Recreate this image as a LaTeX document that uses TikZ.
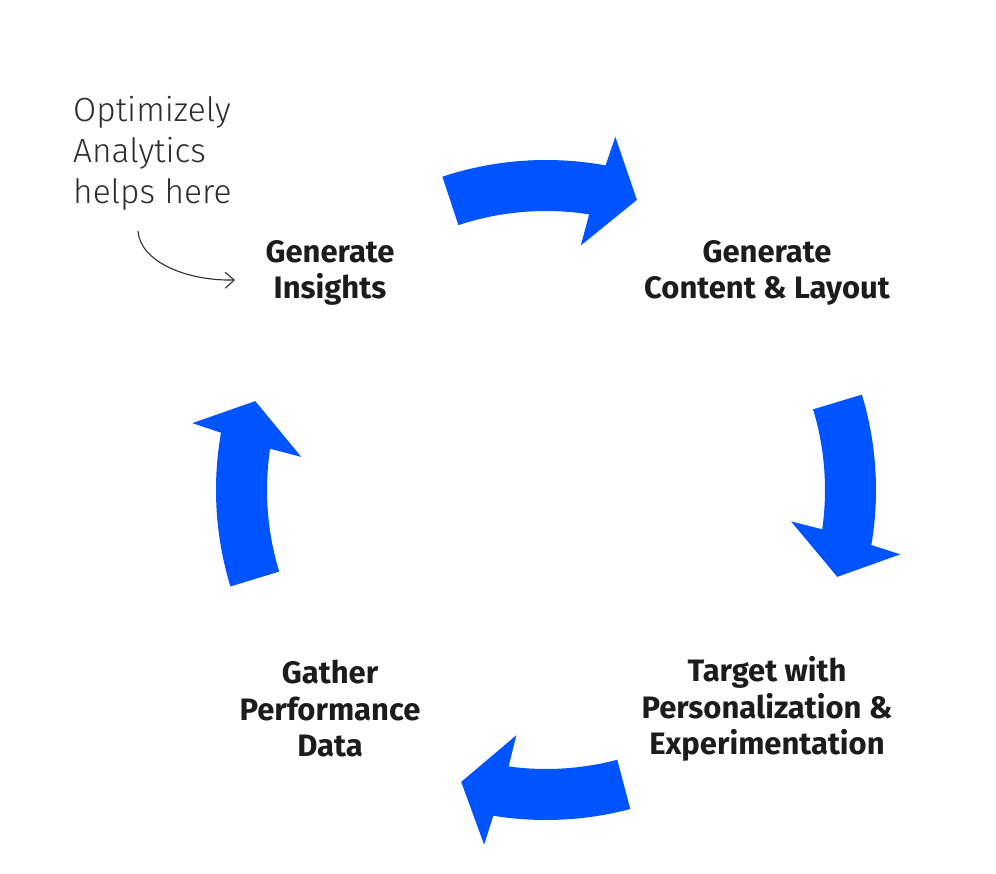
\documentclass[tikz,border=0pt]{standalone}
\usepackage{fontspec}
\setmainfont{Fira Sans}
\newfontfamily\labelfont{Fira Sans}[UprightFont=* Bold]
\newfontfamily\handfont{Fira Sans Light}
\usetikzlibrary{calc,arrows.meta}
\definecolor{arrowblue}{RGB}{0,84,255}
\definecolor{labelink}{RGB}{28,28,28}
\definecolor{handink}{RGB}{45,45,45}
\tikzset{
  steplabel/.style={align=center, text=labelink, inner sep=0pt,
    font=\labelfont\fontsize{31}{36.5}\selectfont},
  handnote/.style={align=left, text=handink, inner sep=0pt, anchor=north west,
    font=\handfont\fontsize{33.5}{41}\selectfont},
  handarrow/.style={draw=handink, line width=1.1pt, -{Straight Barb[length=9pt,width=16pt,line width=1.1pt]}}
}
% #1 tail angle, #2 tip angle (math angles around C, arrows run clockwise)
\newcommand\cyclearrow[2]{%
  \fill[arrowblue] ($(C)+({#1}:330)$) arc[start angle={#1}, end angle={#2+7}, radius=330]
    -- ($(C)+({#2+6.3}:360)$) -- ($(C)+({#2}:304)$) -- ($(C)+({#2+9.3}:247)$)
    -- ($(C)+({#2+8.5}:279)$) arc[start angle={#2+8.5}, end angle={#1}, radius=279] -- cycle;}
\begin{document}
\begin{tikzpicture}[x=1pt,y=1pt]
\useasboundingbox (0,0) rectangle (996,873);
\coordinate (C) at (546,383);
\cyclearrow{108.3}{72.6}
\cyclearrow{16.8}{-16.6}
\cyclearrow{-75.2}{-106.2}
\cyclearrow{197}{163}
\node[steplabel] (gi) at (330,600) {Generate\\Insights};
\node[steplabel] (gcl) at (767,600) {Generate\\Content \& Layout};
\node[steplabel] (tpe) at (767,164) {Target with\\Personalization \&\\Experimentation};
\node[steplabel] (gpd) at (330,164) {Gather\\Performance\\Data};
\node[handnote] (note) at (73,777) {Optimizely\\Analytics\\helps here};
\coordinate (hs) at (138,642);
\coordinate (he) at (235,593);
\draw[handarrow] (hs) .. controls (140,612) and (185,592) .. (he);
\end{tikzpicture}
\end{document}
